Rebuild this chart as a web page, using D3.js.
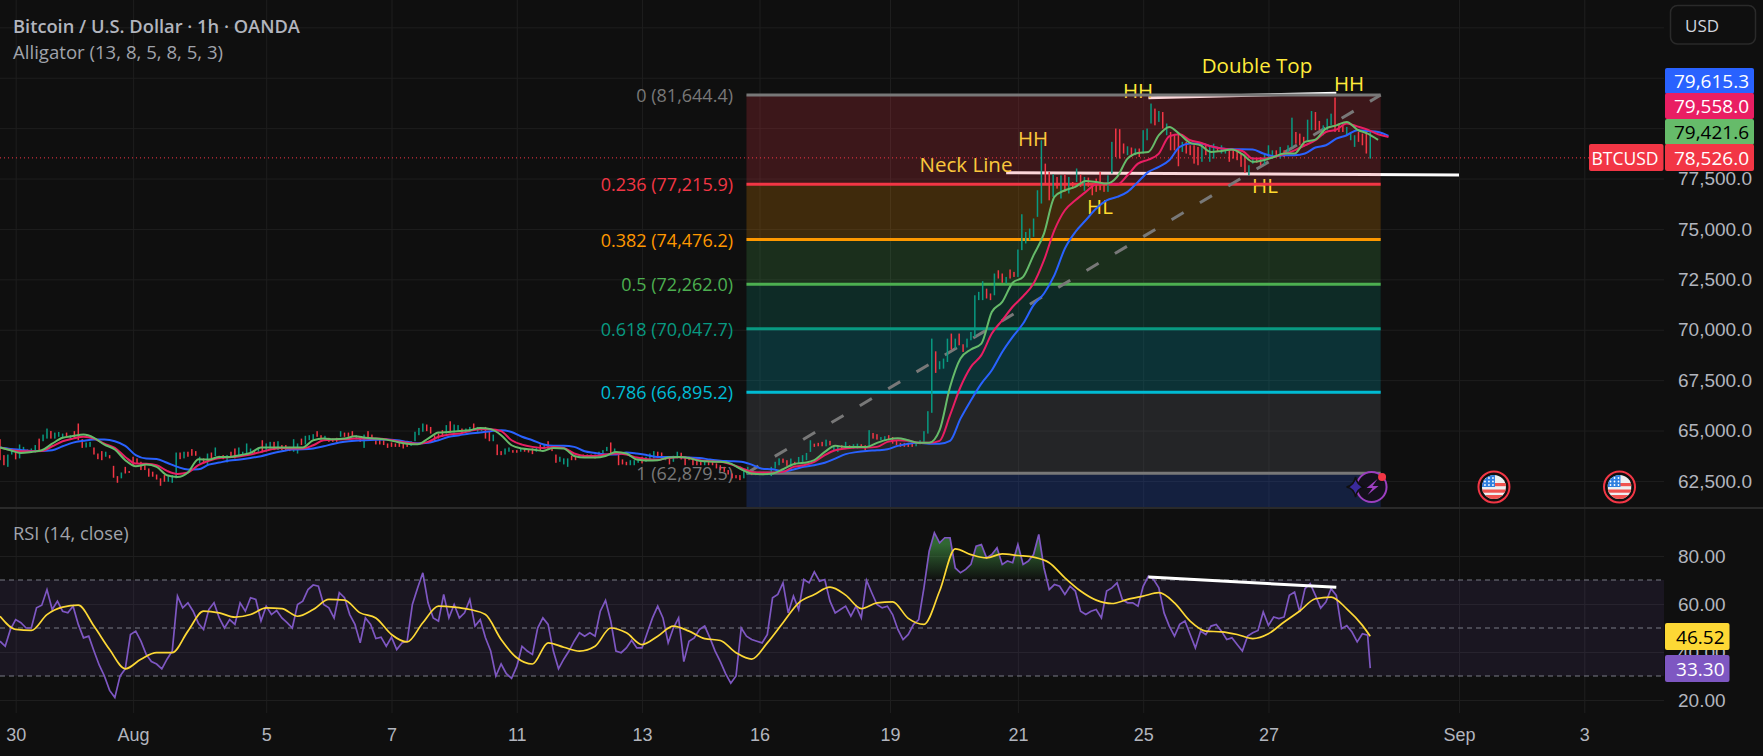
<!DOCTYPE html>
<html>
<head>
<meta charset="utf-8">
<script src="https://cdn.jsdelivr.net/npm/d3@7/dist/d3.min.js"></script>
<style>
    html, body { margin: 0; padding: 0; background: #0f0f0f; overflow: hidden; }
    svg { display: block; font-family: "Open Sans", sans-serif; }
    .axis path { display: none; }
    .axis line { stroke: #1e1e1e; stroke-width: 1; }
    .axis text { fill: #b2b5be; font-size: 19px; }
    .axis.time text { font-size: 18px; }
</style>
</head>
<body>
<svg id="chart" width="1763" height="756"></svg>
<script>
// candles are read every 1.5 trading hours off the picture
var candleStep = 1.5;
var candleHigh = [
    64570,63780,63810,64110,63980,64310,64190,64060,64110,64280,
    64600,64800,65100,64980,64900,64930,64850,64900,64770,64970,
    65350,64570,64410,64440,64160,63860,63980,63950,63780,63250,
    62740,62920,63200,62990,63700,63620,63450,63280,63120,62960,
    62820,62630,62790,62790,62790,63910,63910,63950,63950,64080,
    63980,63700,63620,63860,63910,64160,63750,63780,63780,63950,
    64110,64160,63950,64360,64110,64030,64160,64520,64360,64440,
    64440,64470,64280,64280,64190,64570,64360,64600,64740,64770,
    64820,64970,64770,64740,64640,64600,64640,64970,64900,64900,
    64970,64770,64690,64800,64970,64800,64520,64570,64520,64360,
    64410,64360,64440,64360,64360,64470,64940,65130,65350,65300,
    65180,64770,64850,65020,65270,65460,65300,65270,65100,65100,
    65180,65350,65180,65130,65180,64940,64800,64310,63980,64110,
    64160,64030,64030,64110,64060,64060,64110,64190,64310,64310,
    64470,64280,63810,63700,63620,63620,63750,63700,63810,63810,
    63810,63810,63810,63950,64030,64190,64410,64110,63860,63570,
    63450,63530,63530,63620,63700,63700,63860,63980,63950,63910,
    63700,63650,63750,63950,63900,63700,63700,63620,63620,63530,
    63530,63530,63570,63370,63280,63200,63040,62870,62790,62790,
    63040,63200,62990,62950,62950,62950,62950,63200,63450,63620,
    63610,63530,63610,63450,63690,63780,63890,64520,64350,64390,
    64440,64550,64490,64190,64220,64270,64440,64270,64320,64350,
    64320,64270,65020,64880,64820,64680,64720,64770,64680,64520,
    64390,64390,64390,64390,64440,64520,64970,65960,69560,68930,
    68440,68570,69560,69810,69560,69810,69280,69560,69890,71710,
    71880,72410,72040,71800,72790,72950,72790,72620,72990,72870,
    73980,75730,74850,75020,75520,76920,79400,78240,77830,77710,
    77580,77660,77700,77580,77330,78000,77700,77580,77550,77250,
    77500,77830,77250,77660,79320,79980,79950,79240,79100,79040,
    78990,78990,79900,79980,81220,80970,80850,80800,80230,79810,
    79650,79810,79320,79320,79150,79150,79070,79150,79150,79150,
    79230,79070,79150,78990,78900,78900,78900,78740,78570,78160,
    78570,78490,78570,78740,79150,78900,78900,79070,78900,79150,
    80520,79810,79730,79570,80420,80850,80800,80360,80140,80470,
    80720,81520,80230,80140,80060,79810,79650,79810,79730,79810,
    79810
];
var candleLow = [
    63530,63280,63200,63810,63570,63620,63910,63900,63950,63910,
    63980,64470,64600,64600,64600,64690,64640,64690,64600,64640,
    64520,64140,64160,64190,63810,63580,63530,63700,63620,62660,
    62410,62630,62870,62900,63280,63370,63040,63040,62710,62710,
    62570,62260,62460,62460,62410,62630,63580,63620,63700,63750,
    63750,63370,63370,63280,63620,63730,63580,63580,63420,63700,
    63620,63700,63780,63860,63910,63860,63950,63910,63950,64110,
    64030,64030,64030,64030,63980,63950,63860,64280,64310,64520,
    64570,64690,64570,64570,64440,64440,64440,64690,64690,64690,
    64690,64570,64440,64140,64600,64520,64310,64310,64280,64140,
    64190,64190,64190,64110,64190,64240,64470,64770,64940,64970,
    64850,64440,64600,64690,64850,64900,64900,64940,64850,64900,
    64940,65020,64940,64970,64600,64470,64470,63780,63780,63810,
    63950,63900,63900,63950,63950,63910,63830,63950,64030,64110,
    64030,63980,63400,63450,63320,63200,63530,63530,63650,63650,
    63650,63650,63620,63700,63750,63980,63780,63860,63280,63320,
    63280,63280,63280,63400,63370,63450,63530,63620,63700,63620,
    63530,63320,63450,63620,63570,63280,63530,63280,63280,63280,
    63280,63280,63280,63120,63040,62950,62820,62630,62630,62540,
    62630,62820,62790,62790,62790,62790,62790,62740,63120,63280,
    63400,63250,63200,63280,63360,63450,63530,63940,64190,64220,
    64220,64220,64270,64020,63940,64110,64110,64110,64110,64110,
    64160,64020,64190,64600,64550,64520,64520,64520,64350,64270,
    64190,64190,64190,64190,64220,64320,64440,64850,65880,67860,
    68040,68070,68400,69020,69070,69230,68900,69120,69480,69640,
    71470,71470,71550,71470,71710,72540,72330,72290,72540,72620,
    72620,73950,74280,74440,74610,75600,76260,77250,76420,76590,
    77000,76510,76840,76760,77000,77330,77090,76890,77090,76670,
    76840,76920,76840,76840,77750,78570,78490,78740,78660,78570,
    78660,78570,78740,79400,80230,80140,80310,79980,79650,78900,
    78900,78110,78820,78740,78660,78240,78160,78330,78660,78330,
    78490,78820,78740,78740,78330,78490,78410,78080,77780,77660,
    78240,78280,78160,78210,78490,78490,78570,78490,78570,78740,
    79070,79230,79150,79070,79400,79900,79900,79900,79650,79900,
    80140,79810,79810,79810,79650,79400,79070,79320,79150,78740,
    78490
];
var candleUp = [
    0,0,1,1,0,1,1,0,1,1, 0,1,1,0,1,1,1,0,1,0, 0,0,1,1,0,0,0,1,0,0,
    0,1,0,0,0,0,0,0,0,0, 0,0,0,1,1,1,0,1,0,0, 0,1,0,1,0,1,1,0,1,0,
    0,1,1,1,1,0,1,0,1,1, 0,1,0,0,0,1,1,0,1,1, 1,0,0,1,0,0,0,1,0,0,
    0,1,0,1,0,0,0,0,0,0,
    0,0,0,0,0,1,1,1,1,0, 0,0,0,0,1,0,1,1,0,1, 1,0,1,1,0,0,1,0,0,1,
    1,0,0,1,0,0,0,1,0,1, 0,0,0,1,1,1,0,0,1,0, 0,0,0,1,1,1,0,1,0,0,
    0,1,1,1,0,1,1,1,0,0, 1,0,1,1,0,0,0,0,0,0, 1,0,0,0,0,0,0,0,0,0,
    1,1,0,0,0,0,1,1,1,1,
    0,0,1,0,1,1,1,1,0,0, 0,1,0,1,1,0,1,0,1,1, 0,0,1,0,0,1,1,0,0,0,
    0,0,0,0,1,1,1,1,1,0, 1,1,1,0,1,0,0,1,1,1,
    1,1,0,0,1,0,0,1,0,0, 1,1,1,1,1,1,1,0,0,1, 0,1,0,1,0,1,0,1,0,0,
    0,0,0,1,1,0,0,0,1,0, 1,0,1,1,1,0,1,0,1,0,
    0,0,1,0,0,0,0,1,0,1, 1,0,1,1,0,0,0,0,0,1, 1,0,0,1,1,1,0,1,0,1,
    1,0,0,0,1,1,0,0,1,1, 1,0,0,0,1,1,1,0,0,0, 1
];

// alligator, read every 4 trading hours
var alligatorStep = 4;
var jawValues = [
    64160,64090,64040,63990,63990,64020,64220,64400,64490,64550,64550,64470,64240,63780,63610,63590,63400,63200,63070,63080,
    63310,63410,63510,63560,63640,63730,63860,63970,64060,64070,64110,64220,64350,64440,64490,64520,64540,64550,
    64520,64440,64370,64400,64520,64690,64770,64850,64900,64970,65020,64930,64690,64520,64320,64240,64240,64190,63970,63890,
    63810,63810,63910,63860,63780,63690,63690,63690,63660,63640,63560,63500,63480,63450,63310,63110,63080,
    62970,63070,63200,63280,63400,63610,63830,63930,63990,64020,64070,64240,64350,64390,64350,64350,64490,65590,66500,67330,67990,68900,
    69650,70310,71220,71800,72710,74030,74850,75430,76010,76420,76590,76840,77330,77830,78080,78410,79070,79240,79240,79100,78990,78950,78950,
    78940,78740,78610,78660,78660,78740,79040,79150,79480,79650,79900,79860,79810,79620
];
var teethValues = [
    64160,64040,63970,63970,63990,64220,64470,64600,64690,64600,64350,64140,63690,63360,63350,63280,63000,62850,62920,63280,
    63500,63640,63680,63730,63810,63940,64070,64140,64110,64110,64270,64520,64550,64570,64600,64600,64600,64570,
    64470,64400,64340,64440,64690,64800,64850,64980,65070,65070,64970,64520,64300,64190,64140,64190,64140,63860,63740,63740,
    63810,63860,63810,63660,63580,63560,63640,63680,63640,63530,63480,63450,63330,63150,62950,62920,62920,
    62950,63200,63280,63450,63780,64020,64110,64160,64160,64190,64440,64520,64490,64390,64390,64490,65760,67160,68160,68740,69810,70470,
    71140,71660,72290,73450,74940,75930,76420,76840,77220,77250,77200,77660,78240,78440,78740,79600,79700,79400,79280,79100,78990,78940,78870,
    78490,78490,78570,78710,78900,79150,79400,79810,79930,80230,80090,79930,79700,79558
];
var lipsValues = [
    64160,64020,63890,63940,64020,64350,64640,64730,64800,64640,64300,64060,63530,63230,63310,63200,62780,62700,62920,63580,
    63560,63690,63690,63780,63890,64160,64160,64160,64160,64160,64520,64600,64570,64600,64720,64640,64600,64550,
    64440,64350,64320,64600,64900,64930,64980,65020,65130,65070,64770,64270,64110,64060,63990,64140,64110,63740,63660,63660,
    63740,63940,63860,63560,63510,63530,63660,63690,63640,63500,63460,63450,63360,63080,62870,62830,62870,
    63080,63330,63400,63530,63940,64240,64190,64190,64190,64390,64550,64620,64520,64390,64390,65020,67160,68570,69020,69310,70880,71380,
    72330,72620,73700,74770,76590,76920,77090,77380,77330,77250,77580,78490,78770,78820,79650,80060,79700,79270,79150,78820,78870,78940,78710,
    78330,78410,78570,78740,78740,79320,79430,79980,80140,80310,79930,79730,79421.6
];

// rsi every 2 hours, its moving average every 6 hours
var rsiStep = 2;
var rsiValues = [
    44.5,42.4,49.4,53.5,52.2,50,50,58.4,59.5,66,57.7,61.2,57,56.3,59.1,51.5,45.9,46.6,40.4,34.6,
    30,24,21,30,33,47.3,48.7,44.5,39,36,35,33,37,40.4,63.3,58.4,60.5,57,52,49.4,
    57.7,60.5,54.2,50,53.5,51.5,60.5,57,62.6,61.9,52.9,59.1,55.6,57.3,54.2,52.2,50,59.8,61.2,66,
    67.9,67.4,59.8,58.4,54.2,64.7,62.6,55.6,51.5,43.8,54.2,51.5,45.6,46.2,42.4,46.2,41,43.8,44.5,59.8,
    66.7,73,60.5,54.2,52.9,64,54.2,59.8,54.2,56.3,61.9,50.8,53.5,45.9,40.4,30,35,31,29,34,
    42.4,40.4,39,50,54.2,51.5,40.4,33,37,40.4,44.5,48,46.6,48,46.6,57,61.5,52.9,40.4,39.7,
    41.7,44.9,41.7,41.7,48,54.2,59.1,54.2,43.8,50,54.2,36,44.5,45.9,49.4,50.8,45.9,40.4,36,31,
    27,30,50,46.6,45.2,44.5,43.8,47.3,62.6,64,68.8,56.3,63.3,57.7,70.2,68.8,73.4,69.5,70.2,61.2,
    56.3,57.7,59.1,54.9,59.1,54.2,69.8,64.7,59.8,58.4,59.1,55.6,49.4,45.2,47.3,51.5,53.5,66.7,82,89.7,
    85.5,87.6,87.6,75,73,74.4,76.5,84.1,84.8,79.2,80.6,83.4,76.5,77.9,77.2,84.8,76.5,77.9,80.6,89,
    75,66,68.1,67.4,64,67.4,65.4,57,55.6,57,57.7,54.2,65.4,66.7,68.8,61.9,60.5,60.5,59.1,67.4,
    71.6,70.2,66.7,56.3,50.8,46.6,51.5,52.9,47.3,41.7,48.7,47.3,50.8,51.5,48.7,45.2,45.9,43.1,40.4,46.6,
    48,49,56.7,51.1,54.6,53.9,54.6,63.6,65,56.7,66.4,68.5,63.6,58.3,60.8,66.4,63.6,49.7,51,48.3,
    44.2,47.6,47,33.3
];
var rsiMaStep = 6;
var rsiMaValues = [
    54.9,49.4,49,55.6,58.7,59.5,50.8,41,33,37,39.7,39.7,48.7,57,56.3,54.5,55.6,58.4,58.1,54.9,
    57.7,61.9,61.6,56.3,54.2,47.3,44.2,52.2,59.1,58.7,57.7,55.6,45.2,37.6,35,43.8,42,40.4,42.4,50,
    48,43.1,46.6,50.8,48.7,45.6,44.8,39.7,37,43.8,52.2,60.5,64,67,63.7,58.1,60.5,60.9,54,51.5,
    65.4,83,80.6,79.2,80.9,80.2,79.5,77.2,70.9,65.4,61.6,60.2,61.9,63.3,64.7,60.5,52.9,48.7,48.4,47.3,
    45.6,47.6,52.5,57.1,62.2,62.9,58,51.1,46.52
];
var lastHour = 525;

var priceTicks = [62500, 65000, 67500, 70000, 72500, 75000, 77500];
var priceGrid = [80000, 82500, 85000];
var rsiTicks = [20, 40, 60, 80];
var rsiDashes = [70, 50, 30];
var timeLabels = ["30", "Aug", "5", "7", "11", "13", "16", "19", "21", "25", "27", "Sep", "3"];
var timeHours = [6, 51, 102, 150, 198, 246, 291, 341, 390, 438, 486, 559, 607];

var fibRatios = ["0", "0.236", "0.382", "0.5", "0.618", "0.786", "1"];
var fibPrices = [81644.4, 77215.9, 74476.2, 72262.0, 70047.7, 66895.2, 62879.5];
var fibColors = ["#787878", "#f23645", "#ff9800", "#4caf50", "#089981", "#00bcd4", "#787878"];
var fibFills = ["#f23645", "#ff9800", "#4caf50", "#089981", "#00bcd4", "#787b86", "#2962ff"];
var fibStartHour = 286, fibEndHour = 529;

var neckLine = [[385.5, 77790], [559, 77680]];
var doubleTopLine = [[440, 81510], [512, 81730]];
var rsiTrendLine = [[440, 71.2], [512, 67]];
var eventHours = [572.4, 620.5];
var aiEventHour = 525.5;

var width = 1763, height = 756;
var plotRight = 1664, priceBottom = 507, timeTop = 713;

var x = d3.scaleLinear().domain([0, 1]).range([0, 2.61]);
var y = d3.scaleLinear().domain([62879.5, 81644.4]).range([473.3, 95]);
var rsiY = d3.scaleLinear().domain([20, 80]).range([700, 556]);

var svg = d3.select("#chart");
var defs = svg.append("defs");

var grad = defs.append("linearGradient").attr("id", "rsiFill")
    .attr("gradientUnits", "userSpaceOnUse")
    .attr("x1", 0).attr("x2", 0).attr("y1", rsiY(85)).attr("y2", rsiY(70));
grad.append("stop").attr("offset", 0).attr("stop-color", "#4caf50").attr("stop-opacity", 0.55);
grad.append("stop").attr("offset", 1).attr("stop-color", "#4caf50").attr("stop-opacity", 0);

// grid and axes
svg.append("g").attr("class", "axis time")
    .attr("transform", "translate(0," + timeTop + ")")
    .call(d3.axisBottom(x).tickValues(timeHours)
        .tickFormat(function (d, i) { return timeLabels[i]; })
        .tickSizeInner(-timeTop).tickSizeOuter(0).tickPadding(15));

svg.append("g").attr("class", "axis")
    .attr("transform", "translate(" + plotRight + ",0)")
    .call(d3.axisRight(y).tickValues(priceTicks)
        .tickFormat(d3.format(",.1f"))
        .tickSizeInner(-plotRight).tickSizeOuter(0).tickPadding(14));
svg.append("g").attr("class", "axis")
    .attr("transform", "translate(" + plotRight + ",0)")
    .call(d3.axisRight(y).tickValues(priceGrid).tickFormat("")
        .tickSizeInner(-plotRight).tickSizeOuter(0));
svg.append("g").attr("class", "axis")
    .attr("transform", "translate(" + plotRight + ",0)")
    .call(d3.axisRight(rsiY).tickValues(rsiTicks)
        .tickFormat(d3.format(".2f"))
        .tickSizeInner(-plotRight).tickSizeOuter(0).tickPadding(14));

// rsi band
svg.append("rect")
    .attr("x", 0).attr("width", plotRight)
    .attr("y", rsiY(70)).attr("height", rsiY(30) - rsiY(70))
    .attr("fill", "#7e57c2").attr("opacity", 0.1);
svg.selectAll(".rsiDash").data(rsiDashes).enter().append("line")
    .attr("x1", 0).attr("x2", plotRight)
    .attr("y1", rsiY).attr("y2", rsiY)
    .attr("stroke", "#787b86").attr("stroke-width", 1).attr("stroke-dasharray", "5,4");

// white drawings and text sit under the fib fills, so they pick up the tint
var priceLine = d3.line().x(function (d) { return x(d[0]); }).y(function (d) { return y(d[1]); });
var rsiPlainLine = d3.line().x(function (d) { return x(d[0]); }).y(function (d) { return rsiY(d[1]); });

svg.append("path").attr("d", priceLine(neckLine))
    .attr("stroke", "#fff").attr("stroke-width", 3).attr("fill", "none");
svg.append("path").attr("d", priceLine(doubleTopLine))
    .attr("stroke", "#fff").attr("stroke-width", 3).attr("fill", "none");

function note(txt, cx, cy, color) {
    svg.append("text").text(txt)
        .attr("x", cx).attr("y", cy)
        .attr("text-anchor", "middle").attr("dominant-baseline", "central")
        .attr("fill", color).attr("font-size", 20.5).attr("font-weight", 500);
}
note("Double Top", 1257, 65, "#ffeb3b");
note("HH", 1138, 90, "#ffeb3b");
note("HH", 1349, 83, "#ffeb3b");
note("HH", 1033, 138, "#ffeb3b");
note("HL", 1100, 206, "#ffeb3b");
note("HL", 1265, 185, "#ffeb3b");
note("Neck Line", 966, 164, "#ffeb3b");

// fib
var fibBandBottoms = fibPrices.slice(1);
svg.selectAll(".fibBand").data(fibFills).enter().append("rect")
    .attr("x", x(fibStartHour)).attr("width", x(fibEndHour) - x(fibStartHour))
    .attr("y", function (d, i) { return y(fibPrices[i]); })
    .attr("height", function (d, i) {
        return (i < fibBandBottoms.length ? y(fibBandBottoms[i]) : priceBottom) - y(fibPrices[i]);
    })
    .attr("fill", function (d) { return d; })
    .attr("fill-opacity", 0.2);

svg.selectAll(".fibLine").data(fibPrices).enter().append("line")
    .attr("x1", x(fibStartHour)).attr("x2", x(fibEndHour))
    .attr("y1", y).attr("y2", y)
    .attr("stroke", function (d, i) { return fibColors[i]; })
    .attr("stroke-width", 3);

svg.selectAll(".fibLabel").data(fibPrices).enter().append("text")
    .attr("x", 733).attr("y", y)
    .attr("text-anchor", "end").attr("dominant-baseline", "central")
    .attr("font-size", 18)
    .attr("fill", function (d, i) { return fibColors[i]; })
    .text(function (d, i) { return fibRatios[i] + " (" + d3.format(",.1f")(d) + ")"; });

svg.append("path")
    .attr("d", priceLine([[fibStartHour, fibPrices[6]], [fibEndHour, fibPrices[0]]]))
    .attr("stroke", "#787878").attr("stroke-width", 3).attr("fill", "none")
    .attr("stroke-dasharray", "14,19");

// close line
svg.append("line")
    .attr("x1", 0).attr("x2", 1589)
    .attr("y1", y(78526)).attr("y2", y(78526))
    .attr("stroke", "#f23645").attr("stroke-width", 1).attr("stroke-dasharray", "1,3");

// candles
svg.append("g").selectAll("rect").data(candleHigh).enter().append("rect")
    .attr("x", function (d, i) { return x(i * candleStep) - 0.75; })
    .attr("width", 1.5)
    .attr("y", function (d) { return y(d); })
    .attr("height", function (d, i) { return y(candleLow[i]) - y(d); })
    .attr("fill", function (d, i) { return candleUp[i] ? "#089981" : "#f23645"; });

// alligator
var smooth = d3.line()
    .x(function (d, i) { return x(i * alligatorStep); })
    .y(function (d) { return y(d); })
    .curve(d3.curveMonotoneX);
[[jawValues, "#2962ff"], [teethValues, "#e91e63"], [lipsValues, "#66bb6a"]].forEach(function (s) {
    svg.append("path").attr("d", smooth(s[0]))
        .attr("fill", "none").attr("stroke", s[1]).attr("stroke-width", 2);
});

// rsi
var rsiArea = d3.area()
    .x(function (d, i) { return x(Math.min(i * rsiStep, lastHour)); })
    .y0(rsiY(70))
    .y1(function (d) { return Math.min(rsiY(d), rsiY(70)); });
svg.append("path").attr("d", rsiArea(rsiValues)).attr("fill", "url(#rsiFill)");

svg.append("path")
    .attr("d", d3.line()
        .x(function (d, i) { return x(Math.min(i * rsiStep, lastHour)); })
        .y(function (d) { return rsiY(d); })(rsiValues))
    .attr("fill", "none").attr("stroke", "#7e57c2").attr("stroke-width", 1.7);
svg.append("path")
    .attr("d", d3.line()
        .x(function (d, i) { return x(Math.min(i * rsiMaStep, lastHour)); })
        .y(function (d) { return rsiY(d); })
        .curve(d3.curveMonotoneX)(rsiMaValues))
    .attr("fill", "none").attr("stroke", "#fdd835").attr("stroke-width", 1.7);
svg.append("path").attr("d", rsiPlainLine(rsiTrendLine))
    .attr("stroke", "#fff").attr("stroke-width", 3).attr("fill", "none");

// pane separator
svg.append("rect").attr("x", 0).attr("y", priceBottom).attr("width", width).attr("height", 2).attr("fill", "#2a2a2a");

// titles
svg.append("text").text("Bitcoin / U.S. Dollar · 1h · OANDA")
    .attr("x", 13).attr("y", 25).attr("dominant-baseline", "central")
    .attr("fill", "#b2b5be").attr("font-size", 18.3).attr("font-weight", 600);
svg.append("text").text("Alligator (13, 8, 5, 8, 5, 3)")
    .attr("x", 13).attr("y", 51).attr("dominant-baseline", "central")
    .attr("fill", "#a0a3ab").attr("font-size", 18.6);
svg.append("text").text("RSI (14, close)")
    .attr("x", 13).attr("y", 532).attr("dominant-baseline", "central")
    .attr("fill", "#a0a3ab").attr("font-size", 18.3);

// price tags
function tag(txt, left, top, w, h, fill, color, size) {
    svg.append("rect").attr("x", left).attr("y", top).attr("width", w).attr("height", h)
        .attr("rx", 2).attr("fill", fill);
    svg.append("text").text(txt)
        .attr("x", left + w - 5).attr("y", top + h / 2)
        .attr("text-anchor", "end").attr("dominant-baseline", "central")
        .attr("fill", color).attr("font-size", size || 19).attr("font-weight", 500);
}
tag("79,615.3", 1665, 68, 89, 26, "#2962ff", "#fff");
tag("79,558.0", 1665, 93, 89, 26, "#e91e63", "#fff");
tag("79,421.6", 1665, 119, 89, 26, "#66bb6a", "#000");
tag("78,526.0", 1665, 144, 89, 27, "#f23645", "#fff");
tag("BTCUSD", 1589, 144, 74.5, 27, "#f23645", "#fff", 17.5);
tag("46.52", 1665, 623, 64.5, 27, "#fdd835", "#000");
tag("33.30", 1665, 655, 64.5, 27, "#7e57c2", "#fff");

// USD button
svg.append("rect").attr("x", 1670.5).attr("y", 5.5).attr("width", 85).attr("height", 38.5)
    .attr("rx", 7).attr("fill", "none").attr("stroke", "#2a2a2a").attr("stroke-width", 1.5);
svg.append("text").text("USD").attr("x", 1685).attr("y", 25)
    .attr("dominant-baseline", "central").attr("fill", "#d1d4dc").attr("font-size", 17);

// event icons
function flag(hour, idx) {
    var cx = x(hour), cy = 487;
    var g = svg.append("g");
    defs.append("clipPath").attr("id", "flagClip" + idx)
        .append("circle").attr("cx", cx).attr("cy", cy).attr("r", 12);
    g.append("circle").attr("cx", cx).attr("cy", cy).attr("r", 15.5)
        .attr("fill", "#0f0f0f").attr("stroke", "#f23645").attr("stroke-width", 2);
    var inner = g.append("g").attr("clip-path", "url(#flagClip" + idx + ")");
    inner.append("rect").attr("x", cx - 12).attr("y", cy - 12).attr("width", 24).attr("height", 24).attr("fill", "#eef0f2");
    [-4, 2.5, 8].forEach(function (dy) {
        inner.append("rect").attr("x", cx - 12).attr("y", cy + dy).attr("width", 24).attr("height", dy === 8 ? 5 : 3.2).attr("fill", "#f0524f");
    });
    inner.append("rect").attr("x", cx - 12).attr("y", cy - 12).attr("width", 13).attr("height", 12).attr("fill", "#2f80e0");
    [-9, -5, -1].forEach(function (sx) {
        [-9, -5.5, -2].forEach(function (sy) {
            inner.append("circle").attr("cx", cx + sx).attr("cy", cy + sy).attr("r", 0.9).attr("fill", "#fff");
        });
    });
}
eventHours.forEach(flag);

var ax = x(aiEventHour), ay = 487;
svg.append("circle").attr("cx", ax).attr("cy", ay).attr("r", 15)
    .attr("fill", "#14101c").attr("stroke", "#9c3fc0").attr("stroke-width", 2);
svg.append("path")
    .attr("d", "M" + (ax + 6) + " " + (ay - 8) + "L" + (ax - 5) + " " + (ay + 1) + "L" + (ax + 1) + " " + (ay + 1) + "L" + (ax - 4) + " " + (ay + 8) + "L" + (ax + 7) + " " + (ay - 1) + "L" + (ax + 1) + " " + (ay - 1) + "Z")
    .attr("fill", "#9c3fc0");
var sx = ax - 16;
svg.append("path")
    .attr("d", "M" + sx + " " + (ay - 10) + "Q" + (sx + 1.5) + " " + (ay - 1.5) + " " + (sx + 9) + " " + ay + "Q" + (sx + 1.5) + " " + (ay + 1.5) + " " + sx + " " + (ay + 10) + "Q" + (sx - 1.5) + " " + (ay + 1.5) + " " + (sx - 9) + " " + ay + "Q" + (sx - 1.5) + " " + (ay - 1.5) + " " + sx + " " + (ay - 10) + "Z")
    .attr("fill", "#3a2a9c").attr("stroke", "#0f0f0f").attr("stroke-width", 1.5);
svg.append("circle").attr("cx", ax + 10.5).attr("cy", ay - 10).attr("r", 4).attr("fill", "#f23645");
</script>
</body>
</html>
